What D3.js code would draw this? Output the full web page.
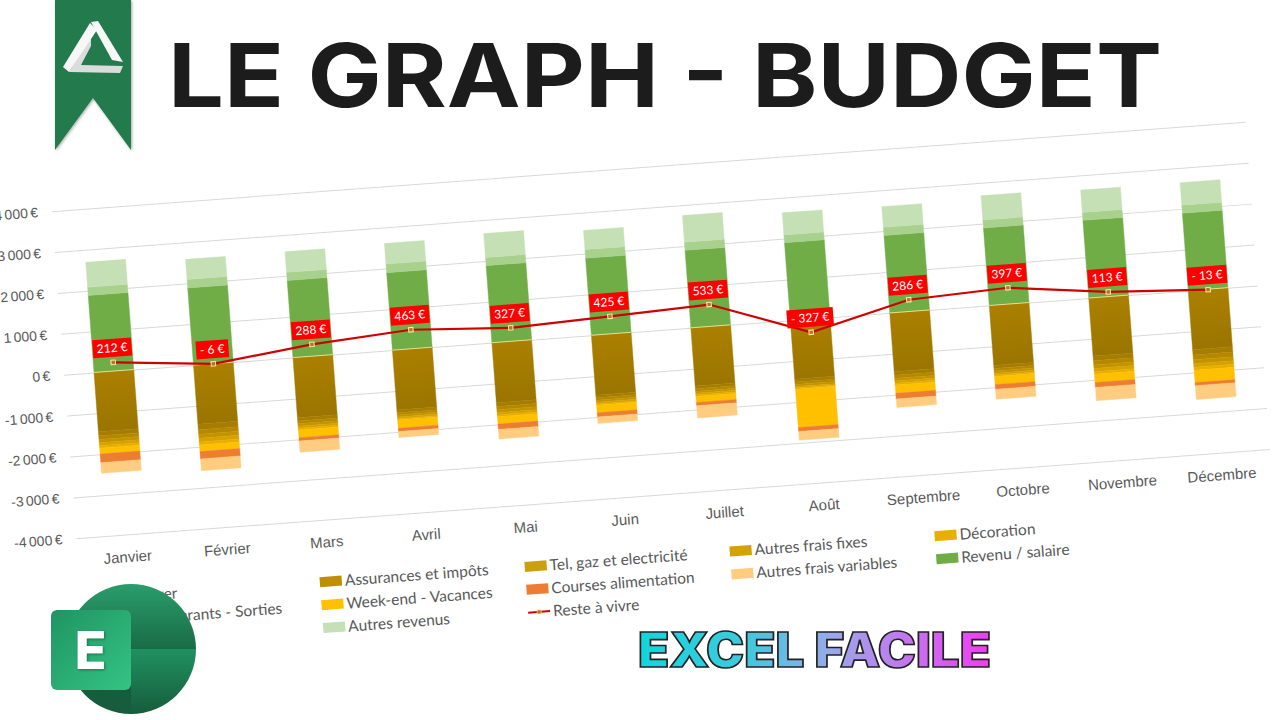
<!DOCTYPE html>
<html>
<head>
<meta charset="utf-8">
<script src="https://cdnjs.cloudflare.com/ajax/libs/d3/7.8.5/d3.min.js"></script>
<style>
body {margin: 0; background: #fff;}
svg {display: block; font-family: Lato, "Open Sans", sans-serif;}
.axisY .domain, .axisX .domain {display: none;}
.axisY line {stroke: #d9d9d9;}
.axisY text {fill: #595959; font-size: 14px; word-spacing: -1.5px;}
.axisX text {fill: #595959; font-size: 15px;}
.legendText {fill: #595959; font-size: 15.5px;}
</style>
</head>
<body>
<div id="graphicContainer"></div>
<script>
var months = ["Janvier","Février","Mars","Avril","Mai","Juin","Juillet","Août","Septembre","Octobre","Novembre","Décembre"];
var yTicks = [-4000,-3000,-2000,-1000,0,1000,2000,3000,4000];

// in euros
var salaire       = [1885,1885,1885,1895,1885,1885,1895,1900,1895,1895,1900,1895];
var revenuSecond  = [200,210,200,210,200,210,200,190,200,195,195,195];
var autresRevenus = [610,490,505,505,585,470,650,540,505,595,545,550];

var loyer       = [-1450,-1450,-1470,-1465,-1470,-1465,-1420,-1440,-1440,-1465,-1420,-1445];
var assurances  = [-100,-130,-80,-65,-90,-65,-70,-70,-85,-75,-115,-130];
var telGaz      = [-90,-110,-70,-55,-80,-60,-60,-60,-75,-60,-100,-115];
var fraisFixes  = [-80,-100,-60,-50,-70,-50,-50,-50,-65,-55,-90,-100];
var decoration  = [-70,-90,-50,-40,-55,-40,-45,-35,-55,-45,-75,-85];
var restaurants = [-60,-75,-40,-35,-45,-30,-35,-30,-45,-35,-65,-75];
var weekEnd     = [-145,-160,-190,-200,-180,-187,-145,-935,-200,-200,-200,-300];
var courses     = [-210,-180,-80,-80,-130,-100,-80,-100,-140,-115,-120,-75];
var fraisVar    = [-260,-290,-275,-145,-235,-160,-300,-210,-210,-245,-325,-340];

var resteAVivre = [212,-6,288,463,327,425,533,-327,286,397,113,-13];

var seriesNames = ["Loyer","Assurances et impôts","Tel, gaz et electricité","Autres frais fixes","Décoration","Restaurants - Sorties","Week-end - Vacances","Courses alimentation","Autres frais variables","Revenu / salaire","Revenu second","Autres revenus"];
var seriesValues = [loyer,assurances,telGaz,fraisFixes,decoration,restaurants,weekEnd,courses,fraisVar,salaire,revenuSecond,autresRevenus];
var seriesColors = ["url(#darkGold)","#a67d00","#b58800","#c49400","#d6a200","#e8ae00","#ffc000","#ed7d31","#ffcc80","#70ad47","#a9d18e","#c5e0b4"];

// legend, column by column
var legendNames = ["Loyer","Restaurants - Sorties","Assurances et impôts","Week-end - Vacances","Autres revenus","Tel, gaz et electricité","Courses alimentation","Reste à vivre","Autres frais fixes","Autres frais variables","Décoration","Revenu / salaire"];
var legendColumns = [0,0,1,1,1,2,2,2,3,3,4,4];
var legendRows = [0,1,0,1,2,0,1,2,0,1,0,1];
var legendColors = ["#a67c00","#ecb000","#bf8f00","#ffc000","#c5e0b4","#cc9f10","#ed7d31","#d00000","#d4a206","#ffcc80","#e8ae00","#70ad47"];

var width = 1280, height = 720,
	plotLeft = -50, plotRight = 1147,
	pxPer1000 = 41;

var svg = d3.select("#graphicContainer")
	.append("svg")
	.attr("width", width)
	.attr("height", height);

var defs = svg.append("defs");

var darkGold = defs.append("linearGradient").attr("id", "darkGold").attr("x1", 0).attr("x2", 0).attr("y1", 0).attr("y2", 1);
darkGold.append("stop").attr("offset", "0%").attr("stop-color", "#ab8000");
darkGold.append("stop").attr("offset", "100%").attr("stop-color", "#9a7500");

var rainbow = defs.append("linearGradient").attr("id", "rainbow").attr("gradientUnits", "userSpaceOnUse")
	.attr("x1", 638).attr("x2", 991).attr("y1", 0).attr("y2", 0);
rainbow.append("stop").attr("offset", "0%").attr("stop-color", "#12d6dc");
rainbow.append("stop").attr("offset", "30%").attr("stop-color", "#3fc9dc");
rainbow.append("stop").attr("offset", "55%").attr("stop-color", "#9aa9ea");
rainbow.append("stop").attr("offset", "100%").attr("stop-color", "#f03cf2");

var topQuarter = defs.append("linearGradient").attr("id", "topQuarter").attr("x1", 0).attr("x2", 0).attr("y1", 0).attr("y2", 1);
topQuarter.append("stop").attr("offset", "0%").attr("stop-color", "#2a9d6c");
topQuarter.append("stop").attr("offset", "100%").attr("stop-color", "#1a6b45");
var lowQuarter = defs.append("linearGradient").attr("id", "lowQuarter").attr("x1", 0).attr("x2", 0).attr("y1", 0).attr("y2", 1);
lowQuarter.append("stop").attr("offset", "0%").attr("stop-color", "#209160");
lowQuarter.append("stop").attr("offset", "100%").attr("stop-color", "#175c3c");
var tile = defs.append("linearGradient").attr("id", "tile").attr("x1", 0).attr("x2", 1).attr("y1", 0).attr("y2", 1);
tile.append("stop").attr("offset", "0%").attr("stop-color", "#1f9463");
tile.append("stop").attr("offset", "100%").attr("stop-color", "#34c483");

var shadow = defs.append("filter").attr("id", "shadow").attr("x", "-10%").attr("width", "120%").attr("y", "-5%").attr("height", "115%");
shadow.append("feDropShadow").attr("dx", 1).attr("dy", 1).attr("stdDeviation", 1.5).attr("flood-opacity", 0.35);

// the whole chart sits tilted on the page
var g = svg.append("g")
	.attr("transform", "translate(114,371) rotate(-4.28)");

var x = d3.scaleBand().domain(months).range([plotLeft, plotRight]).paddingInner(0.6).paddingOuter(0.3);
var y = d3.scaleLinear().domain([-4000, 4000]).range([4 * pxPer1000, -4 * pxPer1000]);

var euro = d3.formatLocale({decimal: ",", thousands: "\u00a0", grouping: [3], currency: ["", " €"], minus: "-"}).format(",");

g.append("g")
	.attr("class", "axisY")
	.attr("transform", "translate(" + plotLeft + ",0)")
	.call(d3.axisLeft(y).tickValues(yTicks).tickSize(-(plotRight - plotLeft)).tickPadding(14).tickFormat(function(d){ return euro(d) + " €" }));

g.append("g")
	.attr("class", "axisX")
	.attr("transform", "translate(0," + y(-4000) + ")")
	.call(d3.axisBottom(x).tickSize(0).tickPadding(17));

var rows = months.map(function(m, i){
	var row = {month: m};
	seriesNames.forEach(function(name, s){ row[name] = seriesValues[s][i] });
	return row;
});

var stacked = d3.stack().keys(seriesNames).offset(d3.stackOffsetDiverging)(rows);

g.selectAll(".serie")
	.data(stacked)
	.enter().append("g")
	.attr("class", "serie")
	.attr("fill", function(d, i){ return seriesColors[i] })
	.attr("stroke", function(d, i){ return seriesColors[i] })
	.attr("stroke-width", 0.4)
	.selectAll("rect")
	.data(function(d){ return d })
	.enter().append("rect")
	.attr("x", function(d){ return x(d.data.month) })
	.attr("width", x.bandwidth())
	.attr("y", function(d){ return Math.min(y(d[0]), y(d[1])) })
	.attr("height", function(d){ return Math.abs(y(d[0]) - y(d[1])) });

// pale seam where income meets spending
g.selectAll(".seam")
	.data(months)
	.enter().append("line")
	.attr("class", "seam")
	.attr("x1", function(d){ return x(d) })
	.attr("x2", function(d){ return x(d) + x.bandwidth() })
	.attr("y1", y(0))
	.attr("y2", y(0))
	.attr("stroke", "#ffe699")
	.attr("stroke-width", 0.8);

var center = function(d){ return x(d) + x.bandwidth() / 2 };

var line = d3.line()
	.x(function(d, i){ return center(months[i]) })
	.y(function(d){ return y(d) });

g.append("path")
	.datum(resteAVivre)
	.attr("d", line)
	.attr("fill", "none")
	.attr("stroke", "#d00000")
	.attr("stroke-width", 2.2);

var labelGroup = g.selectAll(".dataLabel")
	.data(resteAVivre)
	.enter().append("g")
	.attr("class", "dataLabel")
	.attr("transform", function(d, i){ return "translate(" + center(months[i]) + "," + (y(d) - 14.5) + ")" });

labelGroup.append("rect").attr("fill", "#ff0000");

labelGroup.append("text")
	.text(function(d){ return (d < 0 ? "- " + Math.abs(d) : d) + " €" })
	.attr("text-anchor", "middle")
	.attr("dy", ".35em")
	.attr("fill", "#fff")
	.attr("font-size", "12px")
	.each(function(){
		var box = this.getBBox();
		d3.select(this.parentNode).select("rect")
			.attr("x", box.x - 4)
			.attr("width", box.width + 8)
			.attr("y", -9)
			.attr("height", 18);
	});

g.selectAll(".marker")
	.data(resteAVivre)
	.enter().append("rect")
	.attr("class", "marker")
	.attr("x", function(d, i){ return center(months[i]) - 2.2 })
	.attr("y", function(d){ return y(d) - 2.2 })
	.attr("width", 4.4)
	.attr("height", 4.4)
	.attr("fill", "#c0701a")
	.attr("stroke", "#ffeab0")
	.attr("stroke-width", 1);

var legendItem = g.selectAll(".legendItem")
	.data(legendNames)
	.enter().append("g")
	.attr("class", "legendItem")
	.attr("transform", function(d, i){ return "translate(" + (-5 + legendColumns[i] * 205.5) + "," + (226 + legendRows[i] * 23) + ")" });

legendItem.each(function(d, i){
	var item = d3.select(this);
	if(d == "Reste à vivre"){
		item.append("line").attr("x1", -11).attr("x2", 11).attr("stroke", legendColors[i]).attr("stroke-width", 2);
		item.append("rect").attr("x", -2).attr("y", -2).attr("width", 4).attr("height", 4).attr("fill", "#c0701a").attr("stroke", "#ffeab0").attr("stroke-width", 0.6);
	} else {
		item.append("rect").attr("x", -11).attr("y", -5).attr("width", 22).attr("height", 10).attr("fill", legendColors[i]);
	}
	item.append("text")
		.attr("class", "legendText")
		.attr("x", 14)
		.attr("dy", ".35em")
		.text(d);
});

// title
svg.append("text")
	.text("LE GRAPH - BUDGET")
	.attr("x", 168)
	.attr("y", 107)
	.attr("textLength", 994)
	.attr("lengthAdjust", "spacingAndGlyphs")
	.attr("fill", "#1c1c1c")
	.attr("font-family", "Inter, 'Open Sans', sans-serif")
	.attr("font-weight", 700)
	.attr("font-size", "88px");

// bookmark top left
svg.append("polygon")
	.attr("points", "55,0 131,0 131,150 93,98 55,150")
	.attr("fill", "#217a4e")
	.attr("filter", "url(#shadow)");
svg.append("polygon").attr("points", "91,37 69,72 120,73 123,66 81,65 91,46").attr("fill", "#dcdcdc");
svg.append("polygon").attr("points", "90,23 97,30 69,72 63,67").attr("fill", "#f7f7f7");
svg.append("polygon").attr("points", "91,22 98,21 123,62 112,60").attr("fill", "#f7f7f7");

// publisher style logo
var logo = svg.append("g");
logo.append("path").attr("d", d3.arc()({innerRadius: 0, outerRadius: 65, startAngle: -Math.PI / 2, endAngle: Math.PI / 2})).attr("transform", "translate(131,649)").attr("fill", "url(#topQuarter)");
logo.append("path").attr("d", d3.arc()({innerRadius: 0, outerRadius: 65, startAngle: Math.PI / 2, endAngle: Math.PI})).attr("transform", "translate(131,649)").attr("fill", "url(#lowQuarter)");
logo.append("path").attr("d", d3.arc()({innerRadius: 0, outerRadius: 65, startAngle: Math.PI, endAngle: 3 * Math.PI / 2})).attr("transform", "translate(131,649)").attr("fill", "#175c3c");
logo.append("rect").attr("x", 51).attr("y", 610).attr("width", 80).attr("height", 80).attr("rx", 6).attr("fill", "url(#tile)");
logo.append("text").text("E").attr("x", 90.5).attr("y", 669).attr("text-anchor", "middle")
	.attr("font-family", "Inter, sans-serif").attr("font-weight", 800).attr("font-size", "52px").attr("fill", "#fff")
	.attr("filter", "url(#shadow)");

svg.append("text")
	.text("EXCEL FACILE")
	.attr("x", 638)
	.attr("y", 667)
	.attr("textLength", 353)
	.attr("lengthAdjust", "spacingAndGlyphs")
	.attr("fill", "url(#rainbow)")
	.attr("stroke", "#222")
	.attr("stroke-width", 1.6)
	.attr("font-family", "Inter, sans-serif")
	.attr("font-weight", 900)
	.attr("font-size", "48px");
</script>
</body>
</html>
